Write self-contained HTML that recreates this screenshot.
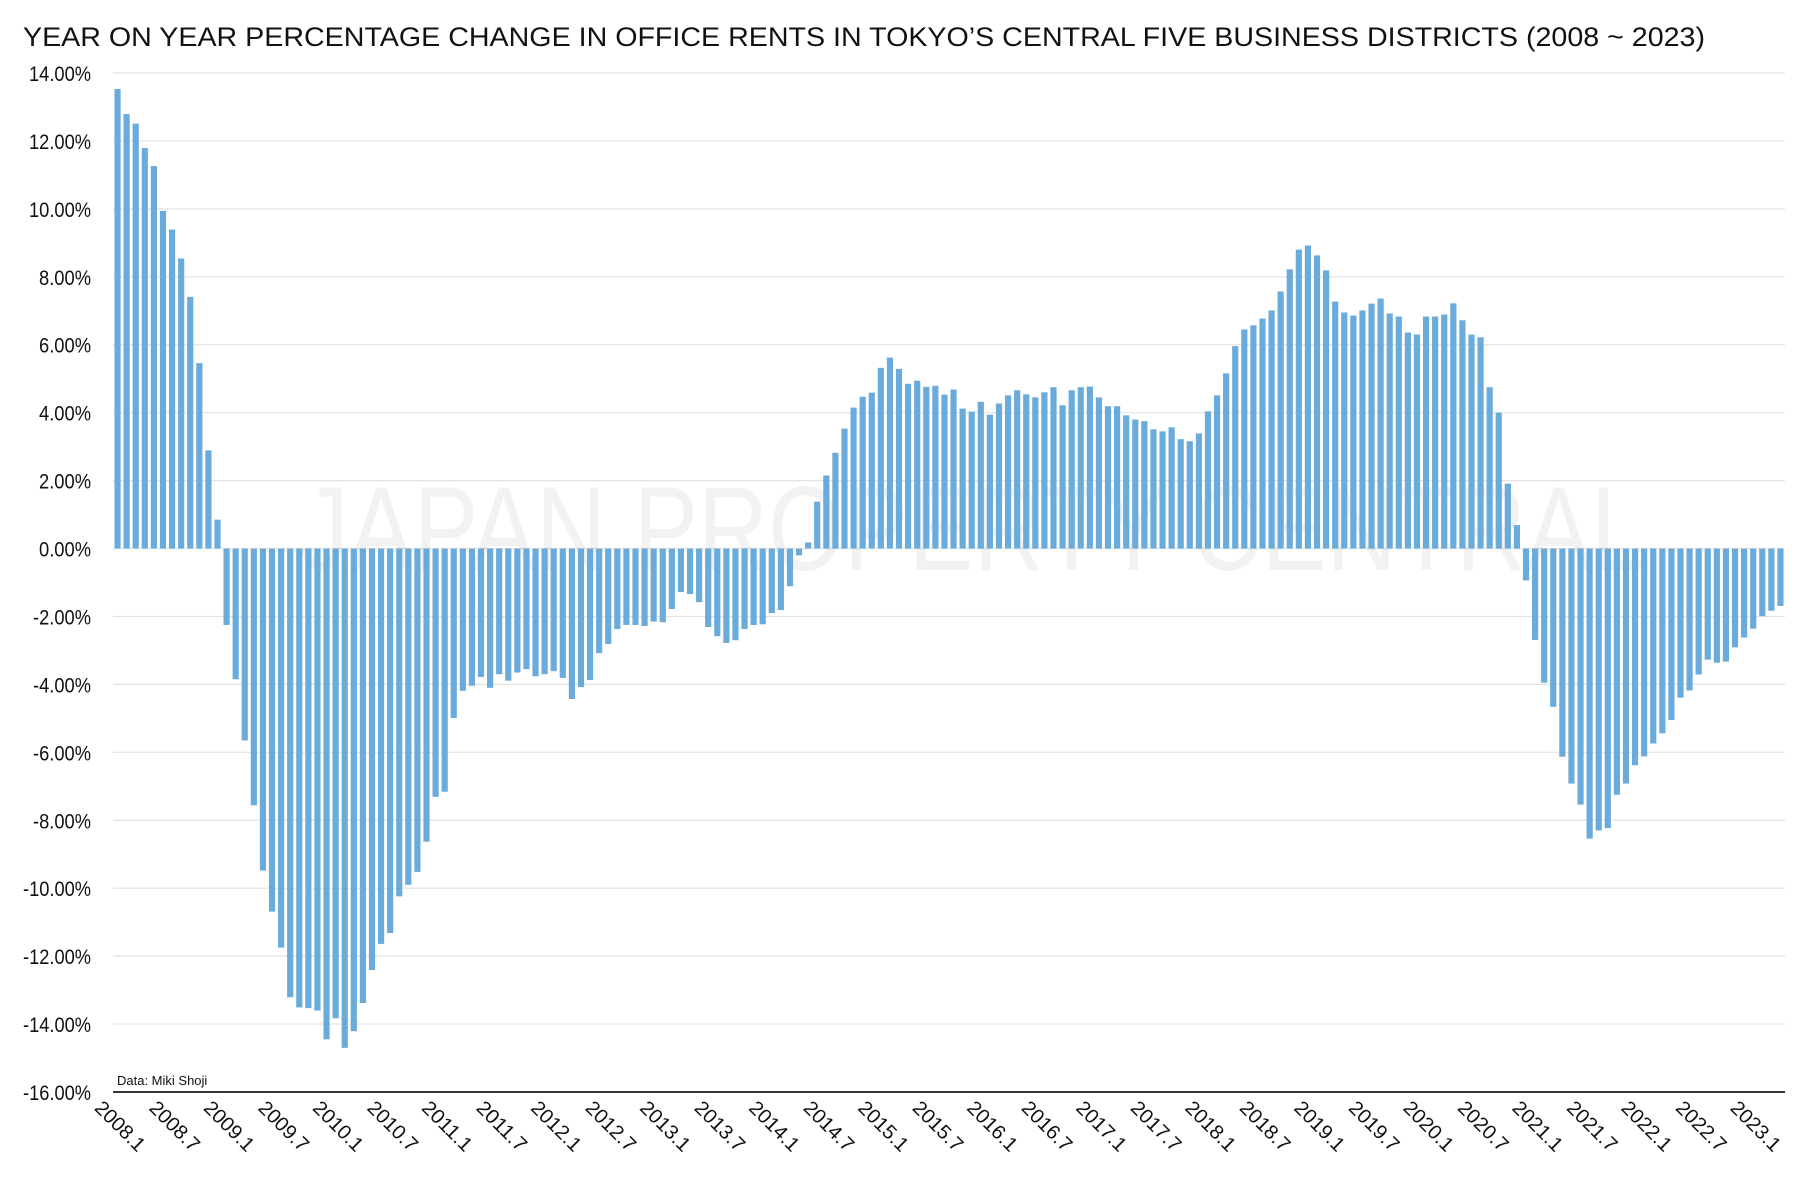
<!DOCTYPE html>
<html><head><meta charset="utf-8"><style>
html,body{margin:0;padding:0;background:#fff;}
svg{display:block;font-family:"Liberation Sans",sans-serif;}
</style></head><body>
<svg id="chart" width="1812" height="1194" viewBox="0 0 1812 1194" xmlns="http://www.w3.org/2000/svg">
<text x="23" y="46" font-size="27" fill="#111" textLength="1682" lengthAdjust="spacingAndGlyphs">YEAR ON YEAR PERCENTAGE CHANGE IN OFFICE RENTS IN TOKYO’S CENTRAL FIVE BUSINESS DISTRICTS (2008 ~ 2023)</text>
<g id="grid"></g>
<text x="300" y="570" font-size="120" fill="#000" fill-opacity="0.05" textLength="1345" lengthAdjust="spacingAndGlyphs">JAPAN PROPERTY CENTRAL</text>
<g id="bars"></g>
<g id="ylabels"></g>
<g id="xlabels"></g>
<line x1="113" y1="1092" x2="1785" y2="1092" stroke="#333" stroke-width="2"/>
<text x="117" y="1085" font-size="13" fill="#111">Data: Miki Shoji</text>
</svg>
<script>
const values = [13.53,12.79,12.51,11.79,11.26,9.94,9.39,8.54,7.41,5.46,2.89,0.85,
-2.25,-3.85,-5.65,-7.56,-9.48,-10.69,-11.75,-13.21,-13.51,-13.53,-13.60,-14.45,
-13.83,-14.70,-14.21,-13.38,-12.41,-11.64,-11.32,-10.24,-9.90,-9.52,-8.63,-7.31,
-7.16,-4.99,-4.19,-4.04,-3.78,-4.10,-3.70,-3.89,-3.65,-3.55,-3.76,-3.70,
-3.61,-3.81,-4.43,-4.08,-3.87,-3.08,-2.81,-2.37,-2.25,-2.25,-2.28,-2.15,
-2.17,-1.78,-1.28,-1.34,-1.58,-2.31,-2.58,-2.78,-2.70,-2.37,-2.25,-2.23,
-1.90,-1.81,-1.11,-0.20,0.18,1.38,2.15,2.82,3.53,4.15,4.47,4.59,
5.32,5.62,5.29,4.85,4.94,4.76,4.79,4.53,4.68,4.12,4.03,4.32,
3.94,4.27,4.51,4.66,4.54,4.45,4.60,4.75,4.22,4.66,4.75,4.77,4.45,
4.19,4.19,3.92,3.80,3.75,3.51,3.45,3.57,3.22,3.16,3.39,4.04,
4.51,5.16,5.96,6.45,6.57,6.77,7.01,7.57,8.22,8.80,8.92,8.63,
8.19,7.27,6.95,6.86,7.01,7.21,7.36,6.92,6.83,6.36,6.30,6.83,
6.83,6.89,7.22,6.72,6.30,6.22,4.75,4.00,1.91,
0.69,-0.94,-2.69,-3.95,-4.66,-6.13,-6.92,-7.54,-8.54,-8.30,-8.23,-7.25,-6.92,-6.38,-6.12,-5.74,-5.44,-5.05,-4.39,-4.18,-3.71,-3.27,-3.36,-3.33,-2.91,-2.62,-2.36,-1.99,-1.83,-1.69];
const startYear = 2008;
const yTicks = [14,12,10,8,6,4,2,0,-2,-4,-6,-8,-10,-12,-14,-16];
const xTickMonths = [1,7];

const NS = "http://www.w3.org/2000/svg";
const plotL = 113, plotR = 1785, yTop = 73, yBot = 1092, vMax = 14, vMin = -16;
const n = values.length;
const step = (plotR - plotL) / n;
function yScale(v){ return yTop + (vMax - v) / (vMax - vMin) * (yBot - yTop); }
function xCenter(i){ return plotL + step * (i + 0.5); }

const grid = document.getElementById('grid');
const yl = document.getElementById('ylabels');
yTicks.forEach(t => {
  const y = yScale(t);
  if (t !== vMin) {
    const ln = document.createElementNS(NS, 'line');
    ln.setAttribute('x1', plotL); ln.setAttribute('x2', plotR);
    ln.setAttribute('y1', y); ln.setAttribute('y2', y);
    ln.setAttribute('stroke', '#e3e3e3'); ln.setAttribute('stroke-width', '1.2');
    
    
    grid.appendChild(ln);
  }
  const tx = document.createElementNS(NS, 'text');
  tx.setAttribute('x', 91); tx.setAttribute('y', y + 8);
  tx.setAttribute('text-anchor', 'end'); tx.setAttribute('font-size', '21');
  tx.setAttribute('fill', '#111');
  tx.setAttribute('textLength', t < 0 ? (t <= -10 ? 68 : 58) : (t >= 10 ? 62 : 52));
  tx.setAttribute('lengthAdjust', 'spacingAndGlyphs');
  tx.textContent = t.toFixed(2) + '%';
  
  
  yl.appendChild(tx);
});

const bars = document.getElementById('bars');
const bw = step * 0.68;
const y0 = yScale(0);
values.forEach((v, i) => {
  const r = document.createElementNS(NS, 'rect');
  const yv = yScale(v);
  r.setAttribute('x', xCenter(i) - bw / 2);
  r.setAttribute('width', bw);
  r.setAttribute('y', Math.min(yv, y0));
  r.setAttribute('height', Math.max(0.5, Math.abs(yv - y0)));
  r.setAttribute('fill', '#6aabdc');
  
  
  bars.appendChild(r);
});

const xl = document.getElementById('xlabels');
values.forEach((v, i) => {
  const month = i % 12 + 1;
  if (!xTickMonths.includes(month)) return;
  const year = startYear + Math.floor(i / 12);
  const x = xCenter(i) - 24, y = 1109;
  const tx = document.createElementNS(NS, 'text');
  tx.setAttribute('x', x); tx.setAttribute('y', y);
  tx.setAttribute('font-size', '20'); tx.setAttribute('fill', '#111');
  tx.setAttribute('transform', 'rotate(45 ' + x + ' ' + y + ')');
  tx.setAttribute('textLength', '62');
  tx.setAttribute('lengthAdjust', 'spacingAndGlyphs');
  tx.textContent = year + '.' + month;
  
  
  xl.appendChild(tx);
});
</script>
</body></html>
